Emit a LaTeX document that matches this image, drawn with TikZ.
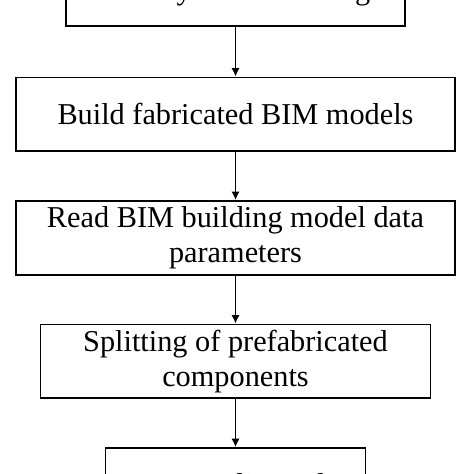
\documentclass[tikz,border=0pt]{standalone}
\usepackage{fontspec}
\setmainfont{Liberation Serif}
\usetikzlibrary{positioning,arrows.meta}

\begin{document}
\begin{tikzpicture}
  [stepbox/.style={rectangle,draw,line width=1.7pt,align=center,
     inner xsep=4pt,inner ysep=2pt,minimum height=73.8pt,
     font=\fontsize{30.3}{35}\selectfont},
   arrowin/.style={line width=1.6pt,{Latex[length=8.5pt,width=8.5pt]}-},
   node distance=48pt]

  \useasboundingbox (0,0) rectangle (474pt,-474pt);

  \node[stepbox,minimum width=339pt,minimum height=68pt,anchor=south] (cad)
    at (235.5pt,-26.5pt) {Modify CAD drawing};

  \node[stepbox,minimum width=439pt] (model) [below=50pt of cad]
    {Build fabricated BIM models}
    edge [arrowin] (cad);

  \node[stepbox,minimum width=439pt] (data) [below=of model]
    {Read BIM building model data\\parameters}
    edge [arrowin] (model);

  \node[stepbox,minimum width=390pt] (split) [below=of data]
    {Splitting of prefabricated\\components}
    edge [arrowin] (data);

  \node[stepbox,minimum width=260pt,minimum height=114pt] (export) [below=of split]
    {Export list and\\drawings}
    edge [arrowin] (split);

\end{tikzpicture}
\end{document}
